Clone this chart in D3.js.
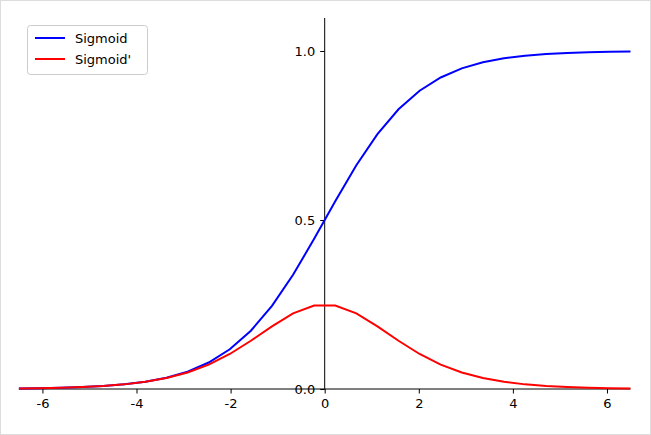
<!DOCTYPE html>
<html><head><meta charset="utf-8">
<script src="https://cdn.jsdelivr.net/npm/d3@7"></script>
<style>body{margin:0;background:#fff}svg{display:block;font-family:"DejaVu Sans",sans-serif}</style>
</head><body><svg id="c" width="651" height="435"></svg>
<script>
const xs = d3.range(30).map(i => -6.5 + i*13/29);
const sigmoid = [0.0015,0.00235,0.00367,0.00573,0.00895,0.0139,0.0217,0.0335,0.0515,0.0783,0.1174,0.1724,0.2458,0.3379,0.4442,0.5558,0.6621,0.7542,0.8276,0.8826,0.9217,0.9485,0.9665,0.9783,0.9861,0.99105,0.99427,0.99633,0.99765,0.9985];
const sigmoidPrime = [0.0015,0.00234,0.00366,0.0057,0.00887,0.0137,0.0212,0.0324,0.0488,0.0722,0.1036,0.1427,0.1854,0.2237,0.2469,0.2469,0.2237,0.1854,0.1427,0.1036,0.0722,0.0488,0.0324,0.0212,0.0137,0.00887,0.0057,0.00366,0.00234,0.0015];
const xTicks = [-6,-4,-2,0,2,4,6];
const yTicks = [0,0.5,1.0];
const svg = d3.select("#c");
svg.append("rect").attr("x",0.5).attr("y",0.5).attr("width",650).attr("height",434).attr("fill","none").attr("stroke","#ddd");
const x = d3.scaleLinear().domain([-6.5,6.5]).range([18.9,630.5]);
const y = d3.scaleLinear().domain([0,1]).range([389,51]);
const xa = svg.append("g").attr("transform",`translate(0,${y(0)})`)
  .call(d3.axisBottom(x).tickValues(xTicks).tickFormat(d => String(d)).tickSize(4.5).tickPadding(5));
xa.select(".domain").attr("d",`M${x(-6.5)},0H${x(6.5)}`);
const ya = svg.append("g").attr("transform",`translate(${x(0)},0)`)
  .call(d3.axisLeft(y).tickValues(yTicks).tickFormat(d => d.toFixed(1)).tickSize(4.5).tickPadding(5));
ya.select(".domain").attr("d",`M0,18V${y(0)}`);
svg.selectAll(".tick text").attr("font-size",13).attr("fill","#000").attr("font-family","DejaVu Sans");
const line = arr => d3.line().x((d,i)=>x(xs[i])).y(d=>y(d))(arr);
svg.append("path").attr("d",line(sigmoid)).attr("fill","none").attr("stroke","#0000ff").attr("stroke-width",2);
svg.append("path").attr("d",line(sigmoidPrime)).attr("fill","none").attr("stroke","#ff0000").attr("stroke-width",2);
const lg = svg.append("g");
lg.append("rect").attr("x",27.5).attr("y",25.5).attr("width",120).attr("height",49).attr("rx",3).attr("fill","#fff").attr("stroke","#ccc");
[["Sigmoid","#0000ff",38],["Sigmoid'","#ff0000",59]].forEach(([t,c,yy])=>{
  lg.append("line").attr("x1",35).attr("x2",65).attr("y1",yy).attr("y2",yy).attr("stroke",c).attr("stroke-width",2);
  lg.append("text").attr("x",75).attr("y",yy+4.5).attr("font-size",13).text(t);
});
</script></body></html>
